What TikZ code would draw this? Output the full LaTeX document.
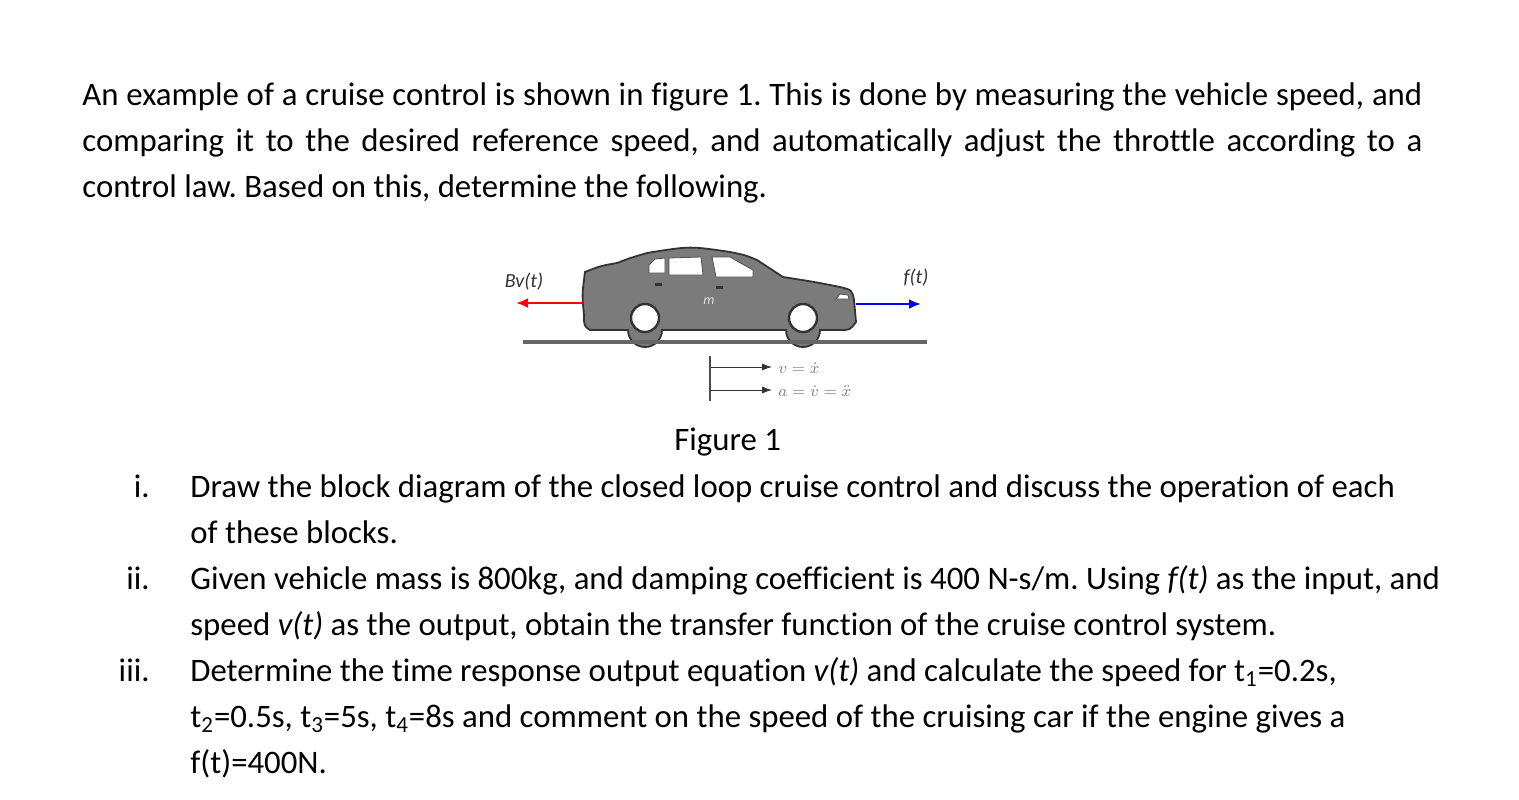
\documentclass[tikz,border=0pt]{standalone}
\usepackage{fontspec}
\setmainfont[Ligatures=NoCommon]{Carlito}
\frenchspacing
\begin{document}
\begin{tikzpicture}[x=0.5pt,y=-0.5pt,
  txt/.style={anchor=base west,inner sep=0pt,font=\fontsize{16.4pt}{23pt}\selectfont},
  num/.style={anchor=base east,inner sep=0pt,font=\fontsize{16.4pt}{23pt}\selectfont},
  fl/.style={-{Latex[length=6pt,width=5pt]},line width=1.4pt}]
\usetikzlibrary{arrows.meta}
\useasboundingbox (0,0) rectangle (1519,799);
\node[txt,text width=670pt,align=justify] (p) at (82,105) {An example of a cruise control is shown in figure 1. This is done by measuring the vehicle speed, and\linebreak comparing it to the desired reference speed, and automatically adjust the throttle according to a\linebreak control law. Based on this, determine the following.};
% car
\draw[fill=gray!85!black!90,draw=black!80,line width=0.9pt] (585,272) .. controls (600,266) .. (617,263) .. controls (630,258) .. (647,253) .. controls (690,246) .. (730,252) .. controls (745,255) .. (757,260) -- (783,277) .. controls (815,282) .. (840,287) .. controls (852,290) .. (854,300) -- (856,322) .. controls (850,330) .. (840,330) -- (820,330) arc (0:180:17) -- (662,330) arc (0:180:17) -- (590,330) .. controls (584,326) .. (584,315) .. controls (582,295) .. (585,272) -- cycle;
\node[circle,draw=black!80,fill=white,line width=1.2pt,minimum size=14pt,inner sep=0pt] (w1) at (645,318) {};
\node[circle,draw=black!80,fill=white,line width=1.2pt,minimum size=14pt,inner sep=0pt] (w2) at (803,318) {};
\fill[white,draw=black!70] (649,265) -- (655,259) -- (665,258) -- (665,273) -- (649,273) -- cycle;
\fill[white,draw=black!70] (669,258) -- (701,257) -- (703,275) -- (669,275) -- cycle;
\fill[white,draw=black!70] (712,257) -- (730,257) -- (753,270) -- (753,277) -- (716,277) -- cycle;
\fill[black!80] (655,283) rectangle (662,286);
\fill[black!80] (716,286) rectangle (723,289);
\fill[white,draw=black!70] (836,299) -- (840,294) -- (848,295) -- (849,299) -- cycle;
\node[inner sep=0pt,text=gray!30,font=\itshape\fontsize{7pt}{7pt}\selectfont] (m) at (709,301) {m};
\draw[gray!80!black,line width=1.8pt] (523,342) -- (927,342);
\coordinate (rl) at (583,303); \coordinate (rr) at (516,303);
\coordinate (bl) at (856,304); \coordinate (br) at (921,304);
\draw[fl,red] (rl) -- (rr);
\draw[fl,blue] (bl) -- (br);
\node[inner sep=0pt,font=\itshape\fontsize{10pt}{10pt}\selectfont,text=black!80] (bv) at (524,282) {Bv(t)};
\node[inner sep=0pt,font=\itshape\fontsize{10pt}{10pt}\selectfont,text=black!80] (ft) at (916,278) {f(t)};
\coordinate (vt) at (710,356); \coordinate (vb) at (710,401);
\draw[black!70,line width=0.9pt] (vt) -- (vb);
\coordinate (a1) at (711,367); \coordinate (a1e) at (772,367);
\coordinate (a2) at (711,390); \coordinate (a2e) at (772,390);
\draw[-{Latex[length=5pt,width=3.5pt]},black!80] (a1) -- (a1e);
\draw[-{Latex[length=5pt,width=3.5pt]},black!80] (a2) -- (a2e);
\node[anchor=west,inner sep=0pt,text=gray,font=\fontsize{8pt}{8pt}\selectfont] (l1) at (778,368) {$v=\dot{x}$};
\node[anchor=west,inner sep=0pt,text=gray,font=\fontsize{8pt}{8pt}\selectfont] (l2) at (778,391) {$a=\dot{v}=\ddot{x}$};
\node[txt] (fig) at (674,450) {Figure 1};
\node[num] (n1) at (150,497) {i.};
\node[txt] (t1) at (190,497) {Draw the block diagram of the closed loop cruise control and discuss the operation of each};
\node[txt] (t1b) at (190,543) {of these blocks.};
\node[num] (n2) at (150,589) {ii.};
\node[txt] (t2) at (190,589) {Given vehicle mass is 800kg, and damping coefficient is 400 N-s/m. Using \textit{f(t)} as the input, and};
\node[txt] (t2b) at (190,635) {speed \textit{v(t)} as the output, obtain the transfer function of the cruise control system.};
\node[num] (n3) at (150,681) {iii.};
\node[txt] (t3) at (190,681) {Determine the time response output equation \textit{v(t)} and calculate the speed for t\textsubscript{1}=0.2s,};
\node[txt] (t3b) at (190,727) {t\textsubscript{2}=0.5s, t\textsubscript{3}=5s, t\textsubscript{4}=8s and comment on the speed of the cruising car if the engine gives a};
\node[txt] (t3c) at (190,773) {f(t)=400N.};
\end{tikzpicture}
\end{document}
